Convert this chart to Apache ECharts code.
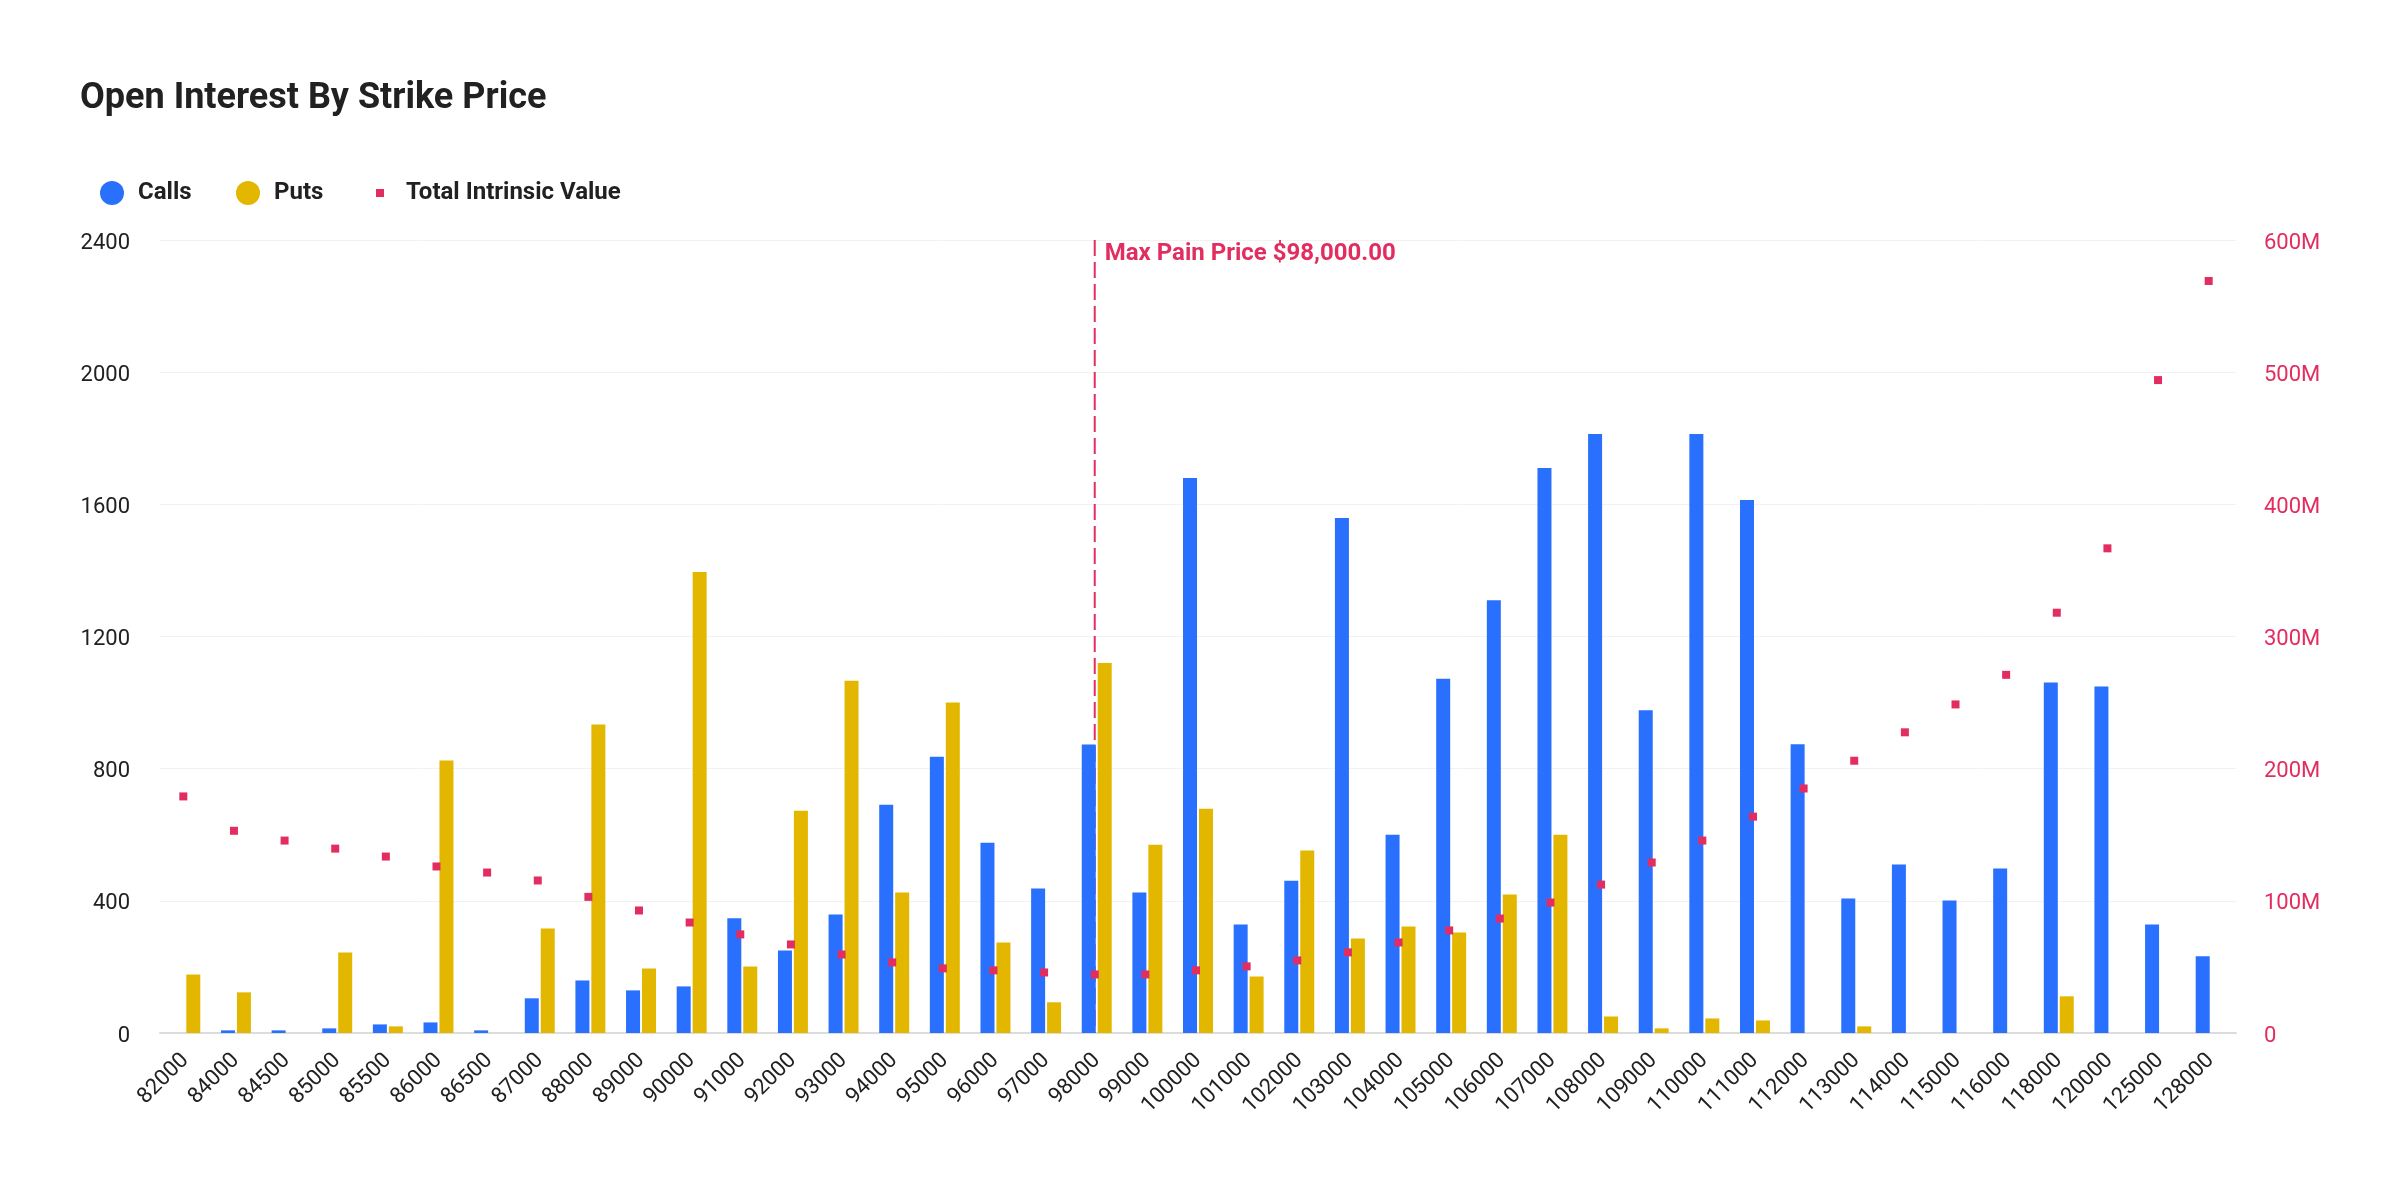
<!DOCTYPE html>
<html lang="en">
<head>
    <meta charset="UTF-8">
    <title>Open Interest By Strike Price</title>
    <style>
        body { margin: 0; background: #fff; }
        .div { width: 2400px; height: 1200px; }
    </style>
</head>
<body>
    <div class="div"></div>
    <script src="https://cdn.jsdelivr.net/npm/echarts@6/dist/echarts.min.js"></script>
    <script>
        const strikes = ['82000', '84000', '84500', '85000', '85500', '86000', '86500', '87000', '88000', '89000', '90000',
            '91000', '92000', '93000', '94000', '95000', '96000', '97000', '98000', '99000', '100000',
            '101000', '102000', '103000', '104000', '105000', '106000', '107000', '108000', '109000', '110000',
            '111000', '112000', '113000', '114000', '115000', '116000', '118000', '120000', '125000', '128000']
        const calls = [0, 8, 8, 14, 26, 32, 8, 105, 159, 129, 141,
            347, 250, 359, 691, 836, 576, 437, 873, 425, 1680,
            328, 461, 1559, 600, 1072, 1310, 1710, 1813, 977, 1813,
            1613, 874, 407, 510, 401, 498, 1061, 1049, 328, 232]
        const puts = [177, 123, 0, 244, 20, 825, 0, 316, 934, 195, 1395,
            201, 673, 1066, 425, 1000, 274, 93, 1120, 570, 679,
            171, 552, 286, 322, 304, 419, 600, 50, 14, 44,
            38, 0, 20, 0, 0, 0, 111, 0, 0, 0]
        // millions
        const intrinsic = [179, 153, 145.6, 139.5, 133.5, 126, 121.4, 115.4, 103, 92.7, 83.6,
            74.6, 67, 59.4, 53.4, 48.9, 47.4, 45.8, 44.3, 44.3, 47.4,
            50.4, 54.9, 61, 68.5, 77.6, 86.6, 98.7, 112.3, 129, 145.6,
            163.7, 185, 206, 227.5, 248.6, 271, 318, 366.7, 494, 569]
        const maxPainStrike = '98000'
        const maxPainLabel = 'Max Pain Price $98,000.00'

        const BLUE = '#2970ff'
        const GOLD = '#e3b700'
        const PINK = '#e22d60'
        const INK = '#212121'
        const FONT = 'Roboto'

        function legendItem (name, left, icon, size, gap) {
            return {
                data: [{ name, icon }],
                left: left - 5,
                top: 176,
                height: 30,
                itemWidth: size,
                itemHeight: size,
                selectedMode: false,
                textStyle: { color: INK, fontFamily: FONT, fontSize: 24, fontWeight: 'bold', padding: [0, 0, 0, gap] }
            }
        }

        // dashed line sits behind the bars, label goes to the right of it
        function renderMaxPain (params, api) {
            const index = strikes.indexOf(maxPainStrike)
            const top = api.coord([index, 2400])
            const bottom = api.coord([index, 0])
            const x = top[0] - 2
            return {
                type: 'group',
                children: [{
                    type: 'line',
                    shape: { x1: x, y1: top[1], x2: x, y2: bottom[1] },
                    style: { stroke: PINK, lineWidth: 2, lineDash: [16, 6] }
                }, {
                    type: 'text',
                    x: x + 10,
                    y: top[1] + 14,
                    style: { text: maxPainLabel, fill: PINK, font: `bold 24px ${FONT}`, verticalAlign: 'middle' }
                }]
            }
        }

        const echart = echarts.init(document.querySelector('.div'))
        echart.setOption({
            animation: false,
            title: {
                text: 'Open Interest By Strike Price',
                left: 75,
                top: 76,
                textStyle: { color: INK, fontFamily: FONT, fontSize: 36, fontWeight: 'bold' }
            },
            legend: [
                legendItem('Calls', 100, 'circle', 24, 9),
                legendItem('Puts', 236, 'circle', 24, 9),
                legendItem('Total Intrinsic Value', 376, 'rect', 8, 17)
            ],
            grid: { left: 160, right: 164, top: 240, bottom: 167 },
            xAxis: {
                type: 'category',
                data: strikes,
                axisTick: { show: false },
                axisLine: { lineStyle: { color: '#dcdcdc', width: 2 } },
                axisLabel: { interval: 0, rotate: 45, margin: 24, color: INK, fontFamily: FONT, fontSize: 22 }
            },
            yAxis: [{
                type: 'value',
                min: 0,
                max: 2400,
                interval: 400,
                axisLine: { show: false },
                axisTick: { show: false },
                splitLine: { lineStyle: { color: '#f2f2f2', width: 1 } },
                axisLabel: {
                    margin: 30,
                    verticalAlign: 'top',
                    lineHeight: 6,
                    color: INK,
                    fontFamily: FONT,
                    fontSize: 22,
                    formatter: v => String(v)
                }
            }, {
                type: 'value',
                min: 0,
                max: 600,
                interval: 100,
                axisLine: { show: false },
                axisTick: { show: false },
                splitLine: { show: false },
                axisLabel: {
                    margin: 28,
                    verticalAlign: 'top',
                    lineHeight: 6,
                    color: PINK,
                    fontFamily: FONT,
                    fontSize: 22,
                    formatter: v => v ? v + 'M' : '0'
                }
            }],
            series: [{
                name: 'Calls',
                type: 'bar',
                data: calls,
                z: 2,
                barWidth: 14,
                barGap: '14%',
                itemStyle: { color: BLUE }
            }, {
                name: 'Puts',
                type: 'bar',
                data: puts,
                z: 2,
                barWidth: 14,
                itemStyle: { color: GOLD }
            }, {
                name: 'Total Intrinsic Value',
                type: 'scatter',
                yAxisIndex: 1,
                data: intrinsic,
                z: 3,
                symbol: 'rect',
                symbolSize: 8,
                symbolOffset: [-2, 0],
                itemStyle: { color: PINK, opacity: 1 }
            }, {
                name: 'Max Pain',
                type: 'custom',
                data: [[strikes.indexOf(maxPainStrike), 0]],
                z: 1,
                clip: false,
                silent: true,
                renderItem: renderMaxPain
            }]
        })
    </script>
</body>
</html>
